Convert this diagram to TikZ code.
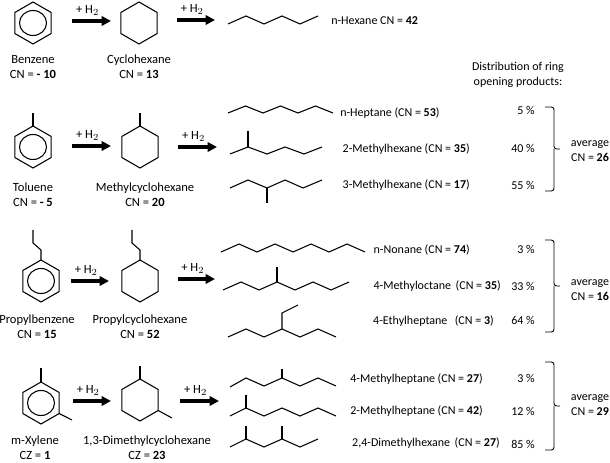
\documentclass[tikz,border=0pt]{standalone}
\usepackage{fontspec}
\setmainfont{Carlito}
\usetikzlibrary{arrows.meta}
\begin{document}
\begin{tikzpicture}[x=0.75pt,y=-0.75pt,
  bond/.style={line width=0.8pt,line join=miter},
  rx/.style={line width=2.4pt,-{Triangle[length=7pt,width=7pt]}},
  lab/.style={font=\fontsize{9.0}{11}\selectfont,inner sep=0pt,align=center},
  llab/.style={font=\fontsize{9.4}{11}\selectfont,inner sep=0pt,align=center},
  brk/.style={line width=0.7pt,rounded corners=2pt}]
\useasboundingbox (0,0) rectangle (610,463);
\newcommand\hexring[3]{% center x,y, aromatic?
  \draw[bond] (#1,#2-21) -- (#1+18.2,#2-10.5) -- (#1+18.2,#2+10.5) -- (#1,#2+21) -- (#1-18.2,#2+10.5) -- (#1-18.2,#2-10.5) -- cycle;
  \ifnum#3=1 \draw[bond] (#1,#2) ellipse (13.5 and 12.5);\fi}
\newcommand\mybrack[3]{% y1,y2,ymid
  \draw[brk] (545,#1) -- (554,#1) -- (554,#3) -- (560,#3);
  \draw[brk] (545,#2) -- (554,#2) -- (554,#3);}
% ---------- row 1
\hexring{33}{23}{1}
\hexring{139}{23}{0}
\coordinate (a1s) at (72,21); \coordinate (a1e) at (111,21);
\coordinate (a2s) at (177,20); \coordinate (a2e) at (215,20);
\draw[rx] (a1s) -- (a1e) node[llab,pos=0.4,above=3pt] {+ H$_2$};
\draw[rx] (a2s) -- (a2e) node[llab,pos=0.4,above=3pt] {+ H$_2$};
\draw[bond] (228,24) -- (246,16) -- (264,24) -- (282,16) -- (300,24) -- (318,16);
\node[lab,anchor=west] (hex) at (331,21) {n-Hexane CN = \textbf{42}};
\node[llab] (benz) at (33,67) {Benzene\\CN = \textbf{- 10}};
\node[llab] (cyc) at (139,67) {Cyclohexane\\CN = \textbf{13}};
\node[lab] (dist) at (518,75) {Distribution of ring\\opening products:};
% ---------- row 2
\hexring{33}{147}{1}
\draw[bond] (33,126) -- (33,113);
\hexring{140}{147}{0}
\draw[bond] (140,126) -- (140,113);
\coordinate (b1s) at (72,146); \coordinate (b1e) at (111,146);
\coordinate (b2s) at (178,147); \coordinate (b2e) at (217,147);
\draw[rx] (b1s) -- (b1e) node[llab,pos=0.4,above=3pt] {+ H$_2$};
\draw[rx] (b2s) -- (b2e) node[llab,pos=0.4,above=3pt] {+ H$_2$};
\node[llab] (tol) at (33,195) {Toluene\\CN = \textbf{- 5}};
\node[llab] (mch) at (145,195) {Methylcyclohexane\\CN = \textbf{20}};
\draw[bond] (228,113) -- (245.5,106) -- (263,113) -- (280.5,106) -- (298,113) -- (315.5,106) -- (333,113);
\draw[bond] (230,154) -- (248,147) -- (267,154) -- (285,147) -- (304,154) -- (322,147);
\draw[bond] (248,147) -- (248,131);
\draw[bond] (230,188) -- (248,180) -- (267,188) -- (285,180) -- (303,188) -- (322,180);
\draw[bond] (267,188) -- (267,203);
\node[lab,anchor=west] (hep) at (340,113) {n-Heptane (CN = \textbf{53})};
\node[lab,anchor=east] (mh2) at (470,149) {2-Methylhexane (CN = \textbf{35})};
\node[lab,anchor=east] (mh3) at (470,185) {3-Methylhexane (CN = \textbf{17})};
\node[lab,anchor=east] (p11) at (535,110) {5 \%};
\node[lab,anchor=east] (p12) at (535,148) {40 \%};
\node[lab,anchor=east] (p13) at (535,185) {55 \%};
\mybrack{107}{191}{149}
\node[lab] (av1) at (590,151) {average\\CN = \textbf{26}};
% ---------- row 3
\hexring{41}{281}{1}
\draw[bond] (41,260) -- (41,250) -- (33,243) -- (33,230);
\hexring{140}{281}{0}
\draw[bond] (140,260) -- (140,250) -- (132,243) -- (132,230);
\coordinate (c1s) at (71,281); \coordinate (c1e) at (109,281);
\coordinate (c2s) at (178,279); \coordinate (c2e) at (215,279);
\draw[rx] (c1s) -- (c1e) node[llab,pos=0.4,above=3pt] {+ H$_2$};
\draw[rx] (c2s) -- (c2e) node[llab,pos=0.4,above=3pt] {+ H$_2$};
\node[llab] (pb) at (37,327) {Propylbenzene\\CN = \textbf{15}};
\node[llab] (pch) at (140,327) {Propylcyclohexane\\CN = \textbf{52}};
\draw[bond] (221,252) -- (239,244) -- (257,252) -- (275,244) -- (293,252) -- (311,244) -- (329,252) -- (347,244) -- (365,252);
\draw[bond] (223,290) -- (241,282) -- (259,290) -- (277,282) -- (295,290) -- (313,282) -- (331,290) -- (349,282);
\draw[bond] (277,282) -- (277,267);
\draw[bond] (228,337) -- (246,329) -- (264,337) -- (282,329) -- (300,337) -- (318,329) -- (336,337);
\draw[bond] (282,329) -- (282,313) -- (298,305);
\node[lab,anchor=east] (non) at (470,250) {n-Nonane (CN = \textbf{74})};
\node[lab,anchor=east] (mo4) at (501,286) {4-Methyloctane\ \,(CN = \textbf{35})};
\node[lab,anchor=east] (eh4) at (494,321) {4-Ethylheptane\ \ \,(CN = \textbf{3})};
\node[lab,anchor=east] (p21) at (535,249) {3 \%};
\node[lab,anchor=east] (p22) at (535,286) {33 \%};
\node[lab,anchor=east] (p23) at (535,320) {64 \%};
\mybrack{240}{332}{286}
\node[lab] (av2) at (590,290) {average\\CN = \textbf{16}};
% ---------- row 4
\hexring{41}{403}{1}
\draw[bond] (41,382) -- (41,368);
\draw[bond] (59.2,413.5) -- (72,420);
\hexring{140}{400}{0}
\draw[bond] (140,379) -- (140,366);
\draw[bond] (158.2,410.5) -- (172,418);
\coordinate (d1s) at (73,401); \coordinate (d1e) at (111,401);
\coordinate (d2s) at (180,401); \coordinate (d2e) at (219,401);
\draw[rx] (d1s) -- (d1e) node[llab,pos=0.4,above=3pt] {+ H$_2$};
\draw[rx] (d2s) -- (d2e) node[llab,pos=0.4,above=3pt] {+ H$_2$};
\node[llab] (mx) at (35,448) {m-Xylene\\CZ = \textbf{1}};
\node[llab] (dmc) at (147,448) {1,3-Dimethylcyclohexane\\CZ = \textbf{23}};
\draw[bond] (230,387) -- (246,378) -- (264,386) -- (282,378) -- (300,386) -- (318,378) -- (336,386);
\draw[bond] (282,378) -- (282,369);
\draw[bond] (230,416) -- (246,408) -- (264,416) -- (282,408) -- (300,416) -- (318,408) -- (336,416);
\draw[bond] (246,408) -- (246,395);
\draw[bond] (230,447) -- (246,439) -- (264,447) -- (282,439) -- (300,447) -- (318,439);
\draw[bond] (246,439) -- (246,426);
\draw[bond] (282,439) -- (282,426);
\node[lab,anchor=east] (mhp4) at (483,379) {4-Methylheptane (CN = \textbf{27})};
\node[lab,anchor=east] (mhp2) at (483,411) {2-Methylheptane (CN = \textbf{42})};
\node[lab,anchor=east] (dmh) at (500,443) {2,4-Dimethylhexane\ \,(CN = \textbf{27})};
\node[lab,anchor=east] (p31) at (535,378) {3 \%};
\node[lab,anchor=east] (p32) at (535,411) {12 \%};
\node[lab,anchor=east] (p33) at (535,444) {85 \%};
\mybrack{362}{450}{406}
\node[lab] (av3) at (590,405) {average\\CN = \textbf{29}};
\end{tikzpicture}
\end{document}
